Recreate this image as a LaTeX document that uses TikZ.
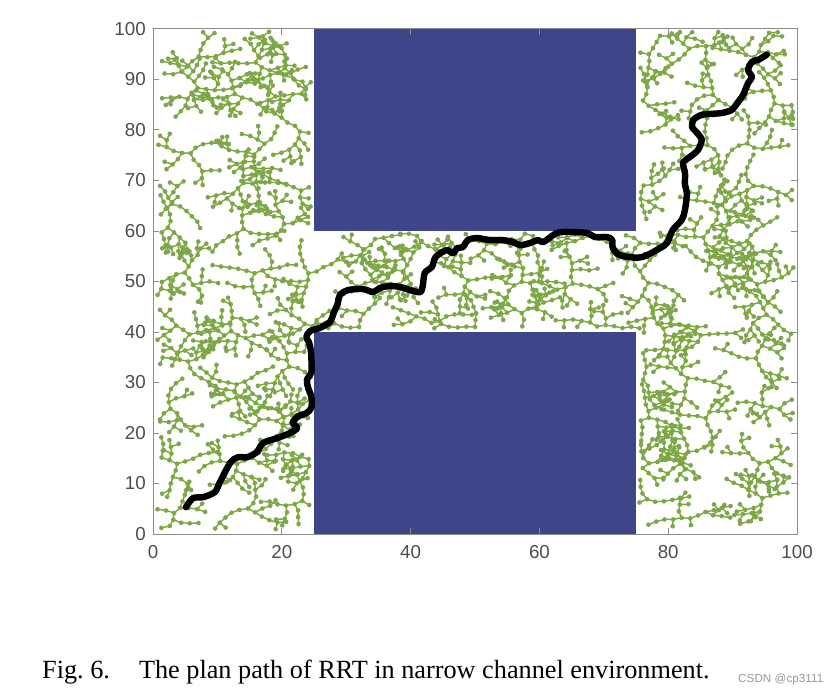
\documentclass[tikz,border=0pt]{standalone}
\usepackage{fontspec}
\setmainfont{Liberation Serif}
\setsansfont{Liberation Sans}
\definecolor{rrtgreen}{RGB}{122,172,52}
\definecolor{rrtdot}{RGB}{128,165,82}
\definecolor{obstblue}{RGB}{62,70,137}
\definecolor{axgray}{HTML}{8C8C8C}
\definecolor{ticktext}{HTML}{4D4D4D}

\tikzset{
  rrtedge/.style={draw=rrtgreen, line width=1.25pt},
  rrtnode/.style={fill=rrtdot},
  obstacle/.style={fill=obstblue},
  rrtpath/.style={draw=black, line width=5.5pt, line join=round, line cap=round},
  axisline/.style={draw=axgray, line width=0.8pt},
  ticklabel/.style={font=\sffamily\fontsize{16}{18}\selectfont, text=ticktext, inner sep=0pt}
}

% free space test: sets \rrtok to 1 or 0
\newcommand\rrtcheck[2]{\pgfmathtruncatemacro\rrtok{(#1>0.5)&&(#1<99.5)&&(#2>0.5)&&(#2<99.5)&&!((#1>24.5)&&(#1<75.5)&&((#2>59.5)||(#2<40.5)))}}
\newcommand\rrtstep{1.35}
% grow one branch: x, y, angle, depth
\newcommand\rrtgrow[4]{%
  \ifnum#4>0\relax
  \begingroup
    \pgfmathsetmacro\rrtnx{#1+\rrtstep*cos(#3)}%
    \pgfmathsetmacro\rrtny{#2+\rrtstep*sin(#3)}%
    \rrtcheck{\rrtnx}{\rrtny}%
    \ifnum\rrtok=1
      \draw[rrtedge] (#1,#2) -- (\rrtnx,\rrtny);
      \fill[rrtnode] (\rrtnx,\rrtny) circle[radius=2pt];
      \pgfmathtruncatemacro\rrtd{#4-1}%
      \pgfmathtruncatemacro\rrtt{min(#4-1,3)}%
      \pgfmathsetmacro\rrta{#3+28*rand}%
      \pgfmathsetmacro\rrtb{#3+(rand<0 ? -1 : 1)*(45+45*rnd)}%
      \pgfmathtruncatemacro\rrtside{rnd<0.5}%
      \ifnum\rrtside=1
        \edef\rrtnext{\noexpand\rrtgrow{\rrtnx}{\rrtny}{\rrta}{\rrtd}\noexpand\rrtgrow{\rrtnx}{\rrtny}{\rrtb}{\rrtt}}%
      \else
        \edef\rrtnext{\noexpand\rrtgrow{\rrtnx}{\rrtny}{\rrta}{\rrtd}}%
      \fi
      \rrtnext
    \fi
  \endgroup
  \fi}

\begin{document}
\begin{tikzpicture}[x=0.03cm, y=0.03cm]
  \useasboundingbox (0,0) rectangle (837,692);
  \pgfmathsetseed{2023}
  \begin{scope}[shift={(153,158)}, x=0.1932cm, y=0.1515cm]
    % the tree
    \begin{scope}
      \clip (0,0) rectangle (100,100);
      \foreach \gx in {5,14,...,95}{
        \foreach \gy in {5,14,...,95}{
          \pgfmathsetmacro\sx{\gx+3*rand}
          \pgfmathsetmacro\sy{\gy+3*rand}
          \rrtcheck{\sx}{\sy}
          \ifnum\rrtok=0
            \let\sx\gx \let\sy\gy
            \rrtcheck{\sx}{\sy}
          \fi
          \ifnum\rrtok=1
            \fill[rrtnode] (\sx,\sy) circle[radius=2pt];
            \pgfmathsetmacro\sa{360*rnd}
            \foreach \k in {0,120,240}{
              \pgfmathsetmacro\ka{\sa+\k+20*rand}
              \edef\rrtnext{\noexpand\rrtgrow{\sx}{\sy}{\ka}{5}}\rrtnext
            }
          \fi
        }
      }
    \end{scope}
    % obstacles
    \fill[obstacle] (25,60) rectangle (75,100);
    \fill[obstacle] (25,0) rectangle (75,40);
    % planned path
    \draw[rrtpath] plot[smooth, tension=0.5] coordinates {
      (5.1,5.3) (6.2,7.1) (7.8,7.3) (9.6,8.3) (10.4,10.3) (12.0,14.1) (13.2,15.2)
      (14.6,15.2) (16.1,16.2) (17.1,18.0) (19.3,19.0) (21.3,20.0) (22.4,21.0)
      (21.7,22.0) (22.4,23.2) (23.9,24.0) (24.6,25.1) (24.6,27.1) (24.1,28.9)
      (23.9,30.5) (24.6,32.1) (24.6,34.5) (24.5,36.4) (24.2,38.0) (23.8,39.0)
      (24.4,40.2) (25.9,40.8) (27.5,42.0) (28.0,43.6) (28.7,45.7) (29.0,47.3)
      (30.3,48.3) (32.6,48.5) (34.2,47.9) (35.2,48.7) (36.8,49.1) (38.4,48.9)
      (39.9,48.3) (41.5,47.9) (41.9,49.3) (42.2,51.7) (43.3,52.9) (43.8,54.7)
      (44.6,55.6) (45.7,56.2) (46.6,55.6) (47.2,56.6) (48.1,56.8) (48.9,58.2)
      (50.3,58.6) (52.3,58.2) (54.3,58.2) (55.9,57.8) (57.0,57.2) (58.5,57.6)
      (59.8,58.2) (60.6,57.8) (62.7,59.6) (64.8,59.8) (67.4,59.6) (68.6,58.8)
      (70.5,58.8) (71.3,58.2) (71.4,56.6) (72.5,55.2) (75.2,54.7) (76.7,55.2)
      (78.7,56.6) (79.8,57.6) (80.7,60.2) (82.1,62.2) (82.6,64.2) (82.9,67.5)
      (82.6,69.1) (82.6,71.5) (82.3,73.5) (83.4,74.7) (84.6,76.0) (85.2,78.0)
      (84.5,79.4) (83.7,80.6) (83.9,82.0) (85.2,83.0) (87.0,83.2) (88.5,83.4)
      (89.9,84.0) (90.7,85.3) (91.6,86.9) (92.4,89.3) (93.0,90.5) (92.4,91.9)
      (93.0,93.5) (94.0,93.9) (95.3,94.9)};
    % axes
    \draw[axisline] (0,0) rectangle (100,100);
    \foreach \v in {0,10,...,100}{
      \draw[axisline] (0,\v) -- ++(0.9,0);
      \draw[axisline] (100,\v) -- ++(-0.9,0);
      \node[ticklabel, anchor=east] at (-1.1,\v) {\v};
    }
    \foreach \v in {0,20,...,100}{
      \draw[axisline] (\v,0) -- ++(0,1.2);
      \draw[axisline] (\v,100) -- ++(0,-1.2);
      \node[ticklabel, anchor=north] at (\v,-2.2) {\v};
    }
  \end{scope}
  % caption
  \node[anchor=base west, inner sep=0pt, font=\fontsize{22.4}{26}\selectfont] (caption) at (42,14)
    {Fig.\ 6.\hspace{0.87cm}The plan path of RRT in narrow channel environment.};
  \node[anchor=base west, inner sep=0pt, font=\sffamily\fontsize{10}{12}\selectfont, text=gray!80] (mark) at (738,10) {CSDN @cp3111};
\end{tikzpicture}
\end{document}
